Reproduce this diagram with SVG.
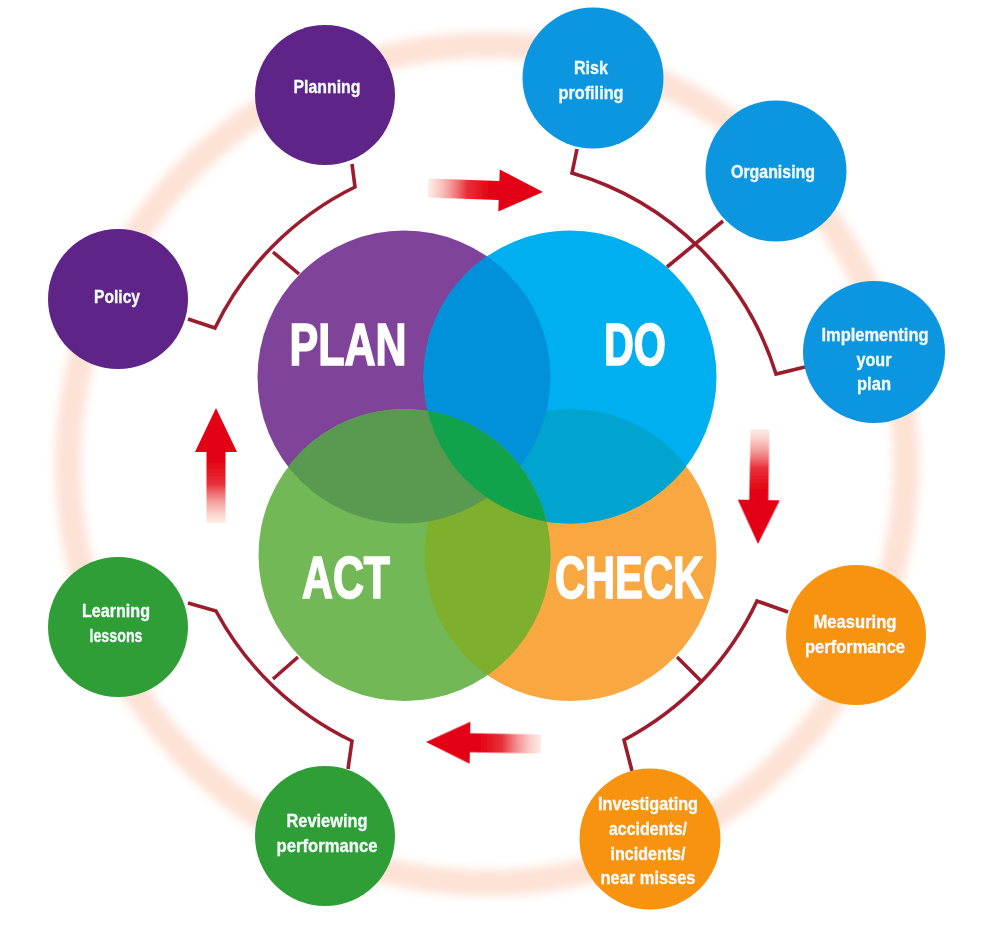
<svg xmlns="http://www.w3.org/2000/svg" width="992" height="935" viewBox="0 0 992 935">
<style>
text{font-family:"Liberation Sans Narrow","Liberation Sans",Arial,sans-serif;font-weight:700;text-anchor:middle}
.s{font-size:18.500px;fill:#f4fbfd;stroke:#f4fbfd;stroke-width:0.35}
.b{font-size:59px;fill:#fff;stroke:#fff;stroke-width:1.7}
.c{fill:none;stroke:#9c1c2e;stroke-width:3.6;stroke-linejoin:miter}
.pu{fill:#5e2487}.bl{fill:#0c96df}.or{fill:#f7930f}.gr{fill:#2f9e36}
</style>
<defs>
<filter id="soft" x="-10%" y="-10%" width="120%" height="120%"><feGaussianBlur stdDeviation="5"/></filter>
<filter id="sl" x="-10%" y="-10%" width="120%" height="120%"><feGaussianBlur stdDeviation="0.7"/></filter>
<polygon id="arrow" points="0,0 -44,-21 -44,-9.500 -115,-9.500 -115,9.500 -44,9.500 -44,21" fill="url(#gr2)"/>
<linearGradient id="gr2" gradientUnits="userSpaceOnUse" x1="-55" y1="0" x2="-115" y2="0"><stop offset="0" stop-color="#e30613"/><stop offset="0.35" stop-color="#e8303a"/><stop offset="1" stop-color="#fbd0be" stop-opacity="0.4"/></linearGradient>
<clipPath id="cP"><circle cx="404" cy="377" r="146.500"/></clipPath>
<clipPath id="cD"><circle cx="570" cy="377" r="146.500"/></clipPath>
<clipPath id="cA"><circle cx="404.500" cy="555" r="146"/></clipPath>
<clipPath id="cC"><circle cx="570.500" cy="555" r="146"/></clipPath>
</defs>
<rect width="992" height="935" fill="#fff"/>
<circle id="ring" cx="487" cy="464" r="419" fill="none" stroke="#fde2d6" stroke-width="26" filter="url(#soft)"/>
<g id="connectors">
<path class="c" d="M577 149L572 173A302 302 0 0 1 776 374L805 367"/>
<path class="c" d="M723 221L667 267"/>
<path class="c" d="M352 164L355 187A304 304 0 0 0 215 328L188 319"/>
<path class="c" d="M273 252L299 274"/>
<path class="c" d="M788 612L757 601A303 303 0 0 1 624 740L632 771"/>
<path class="c" d="M677 657L701 681"/>
<path class="c" d="M188 603L216 611A304 304 0 0 0 352 741L348 769"/>
<path class="c" d="M298 657L273 679"/>
</g>
<g id="arrows" filter="url(#sl)">
<use href="#arrow" transform="translate(543 192) rotate(2)"/>
<use href="#arrow" transform="translate(758 544) rotate(91)"/>
<use href="#arrow" transform="translate(426 742) rotate(181)"/>
<use href="#arrow" transform="translate(216 408) rotate(-90)"/>
</g>
<g id="plan-circle"><circle cx="404" cy="377" r="146.500" fill="#7f4399"/></g>
<g id="check-circle"><circle cx="570.500" cy="555" r="146" fill="#f9a841"/></g>
<g id="do-circle"><circle cx="570" cy="377" r="146.500" fill="#00aff0"/></g>
<g id="act-circle"><circle cx="404.500" cy="555" r="146" fill="#72b857"/></g>
<g id="overlaps">
<g clip-path="url(#cD)"><circle cx="570.500" cy="555" r="146" fill="#00a4cf"/></g>
<g clip-path="url(#cP)"><circle cx="570" cy="377" r="146.500" fill="#0091da"/></g>
<g clip-path="url(#cC)"><circle cx="404.500" cy="555" r="146" fill="#7fb02d"/></g>
<g clip-path="url(#cP)"><circle cx="404.500" cy="555" r="146" fill="#5a9a50"/></g>
<g clip-path="url(#cD)"><circle cx="404.500" cy="555" r="146" fill="#11a24c"/></g>
</g>
<text class="b" x="348" y="365" textLength="117" lengthAdjust="spacingAndGlyphs">PLAN</text>
<text class="b" x="635" y="365" textLength="62" lengthAdjust="spacingAndGlyphs">DO</text>
<text class="b" x="346" y="598" textLength="88" lengthAdjust="spacingAndGlyphs">ACT</text>
<text class="b" x="629" y="598" textLength="148" lengthAdjust="spacingAndGlyphs">CHECK</text>
<g id="planning"><circle class="pu" cx="325" cy="95" r="70"/><text class="s" x="327" y="93" textLength="67" lengthAdjust="spacingAndGlyphs">Planning</text></g>
<g id="policy"><circle class="pu" cx="118" cy="299" r="70"/><text class="s" x="117" y="303" textLength="46" lengthAdjust="spacingAndGlyphs">Policy</text></g>
<g id="risk"><circle class="bl" cx="593" cy="78" r="70.500"/><text class="s" x="591" y="74" textLength="34" lengthAdjust="spacingAndGlyphs">Risk</text><text class="s" x="591" y="99" textLength="65" lengthAdjust="spacingAndGlyphs">profiling</text></g>
<g id="organising"><circle class="bl" cx="776" cy="171" r="70.500"/><text class="s" x="773" y="178" textLength="84" lengthAdjust="spacingAndGlyphs">Organising</text></g>
<g id="implementing"><circle class="bl" cx="874" cy="352" r="71"/><text class="s" x="875" y="341" textLength="107" lengthAdjust="spacingAndGlyphs">Implementing</text><text class="s" x="874" y="366" textLength="35" lengthAdjust="spacingAndGlyphs">your</text><text class="s" x="874" y="390" textLength="34" lengthAdjust="spacingAndGlyphs">plan</text></g>
<g id="measuring"><circle class="or" cx="856" cy="635" r="70"/><text class="s" x="855" y="628" textLength="83" lengthAdjust="spacingAndGlyphs">Measuring</text><text class="s" x="855" y="653" textLength="100" lengthAdjust="spacingAndGlyphs">performance</text></g>
<g id="investigating"><circle class="or" cx="650" cy="839" r="70.500"/><text class="s" x="648" y="810" textLength="100" lengthAdjust="spacingAndGlyphs">Investigating</text><text class="s" x="648" y="835" textLength="78" lengthAdjust="spacingAndGlyphs">accidents/</text><text class="s" x="648" y="860" textLength="75" lengthAdjust="spacingAndGlyphs">incidents/</text><text class="s" x="648" y="884" textLength="95" lengthAdjust="spacingAndGlyphs">near misses</text></g>
<g id="reviewing"><circle class="gr" cx="325" cy="836" r="70"/><text class="s" x="327" y="827" textLength="81" lengthAdjust="spacingAndGlyphs">Reviewing</text><text class="s" x="327" y="852" textLength="101" lengthAdjust="spacingAndGlyphs">performance</text></g>
<g id="learning"><circle class="gr" cx="118" cy="627" r="70"/><text class="s" x="116" y="617" textLength="68" lengthAdjust="spacingAndGlyphs">Learning</text><text class="s" x="116" y="642" textLength="53" lengthAdjust="spacingAndGlyphs">lessons</text></g>
</svg>
